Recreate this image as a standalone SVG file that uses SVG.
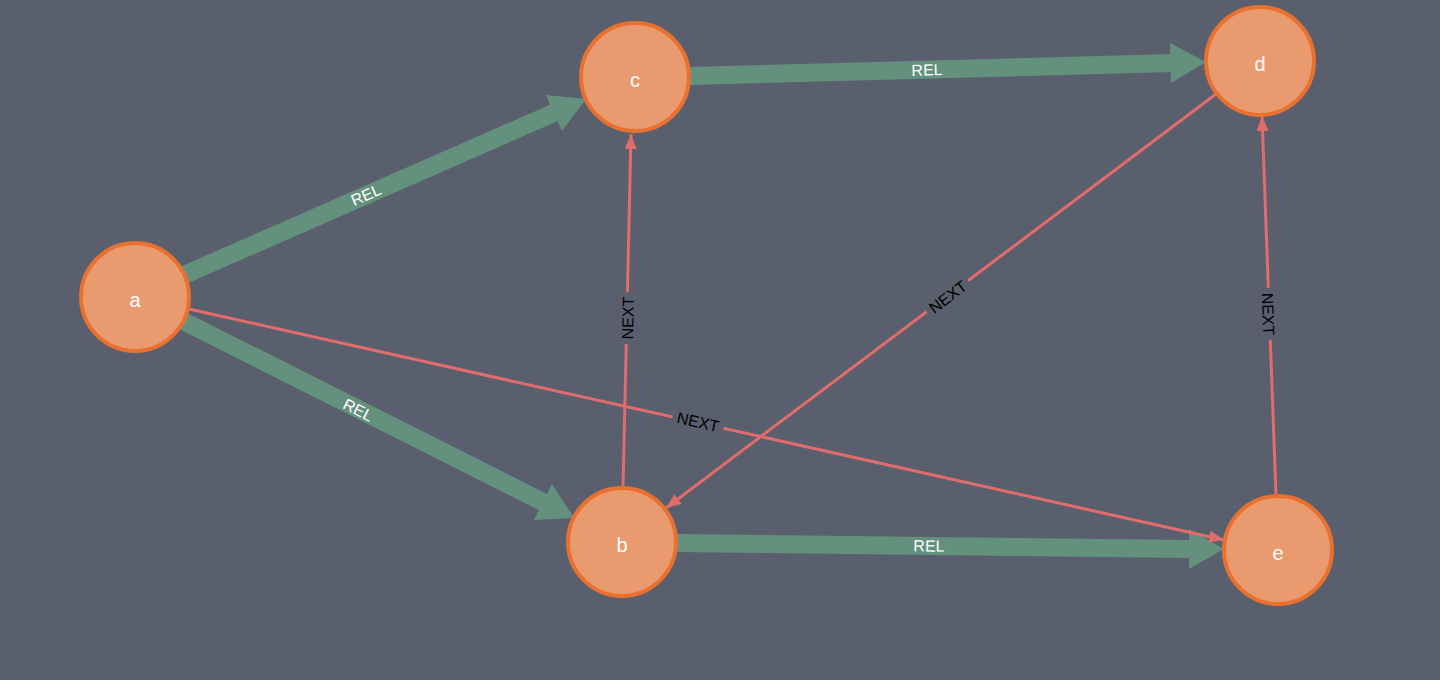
<svg xmlns="http://www.w3.org/2000/svg" width="1440" height="680" viewBox="0 0 1440 680">
<style>
.rel{stroke:#64917E;stroke-width:18;fill:none}
.relh{fill:#64917E}
.next{stroke:#E06C6C;stroke-width:3;fill:none}
.rl{fill:#fff;font-family:"Liberation Sans",Arial,sans-serif;font-size:16px;text-anchor:middle;dominant-baseline:central}
.nl{fill:#000;font-family:"Liberation Sans",Arial,sans-serif;font-size:16px;text-anchor:middle;dominant-baseline:central}
.gap{fill:#5A5F6E}
.node circle{fill:#E99A6E;stroke:#E8712F;stroke-width:4}
.node text{fill:#fff;font-family:"Liberation Sans",Arial,sans-serif;font-size:20px;text-anchor:middle;dominant-baseline:central}
</style>
<defs>
<marker id="ah" viewBox="0 0 5 4" refX="5" refY="2" markerWidth="5" markerHeight="4" orient="auto" markerUnits="strokeWidth"><path d="M0,0L5,2L0,4z" fill="#E06C6C"/></marker>
</defs>
<rect width="1440" height="680" fill="#5A5F6E"/>
<g id="connectors">
<line class="rel" x1="184" y1="275" x2="556" y2="112"/><polygon class="relh" points="586,99 546,95 562,131"/>
<text class="rl" transform="translate(366,195) rotate(-23.7)">REL</text>
<line class="rel" x1="689" y1="76" x2="1173" y2="63"/><polygon class="relh" points="1206,62 1170,43 1171,83"/>
<text class="rl" transform="translate(927,70) rotate(-1.5)">REL</text>
<line class="rel" x1="183" y1="321" x2="545" y2="503"/><polygon class="relh" points="574,518 552,484 534,520"/>
<text class="rl" transform="translate(358,410) rotate(26.7)">REL</text>
<line class="rel" x1="676" y1="543" x2="1191" y2="549"/><polygon class="relh" points="1224,549 1189,529 1189,569"/>
<text class="rl" transform="translate(929,546) rotate(0.7)">REL</text>
<line class="next" x1="623" y1="487" x2="631" y2="134" marker-end="url(#ah)"/>
<line class="next" x1="1216" y1="94" x2="666" y2="508" marker-end="url(#ah)"/>
<line class="next" x1="1276" y1="495" x2="1262" y2="116" marker-end="url(#ah)"/>
<line class="next" x1="189" y1="309" x2="1224" y2="540" marker-end="url(#ah)"/>
<g transform="translate(628,318) rotate(-88.7)"><rect class="gap" x="-26" y="-9" width="52" height="18"/><text class="nl">NEXT</text></g>
<g transform="translate(948,297) rotate(-37)"><rect class="gap" x="-26" y="-9" width="52" height="18"/><text class="nl">NEXT</text></g>
<g transform="translate(1268,314) rotate(88)"><rect class="gap" x="-26" y="-9" width="52" height="18"/><text class="nl">NEXT</text></g>
<g transform="translate(698,422) rotate(12.6)"><rect class="gap" x="-26" y="-9" width="52" height="18"/><text class="nl">NEXT</text></g>
</g>
<g id="a" class="node"><circle cx="135" cy="297" r="54"/><text x="135" y="300">a</text></g>
<g id="c" class="node"><circle cx="635" cy="77" r="54"/><text x="635" y="80">c</text></g>
<g id="d" class="node"><circle cx="1260" cy="61" r="54"/><text x="1260" y="64">d</text></g>
<g id="b" class="node"><circle cx="622" cy="542" r="54"/><text x="622" y="545">b</text></g>
<g id="e" class="node"><circle cx="1278" cy="550" r="54"/><text x="1278" y="553">e</text></g>
</svg>
